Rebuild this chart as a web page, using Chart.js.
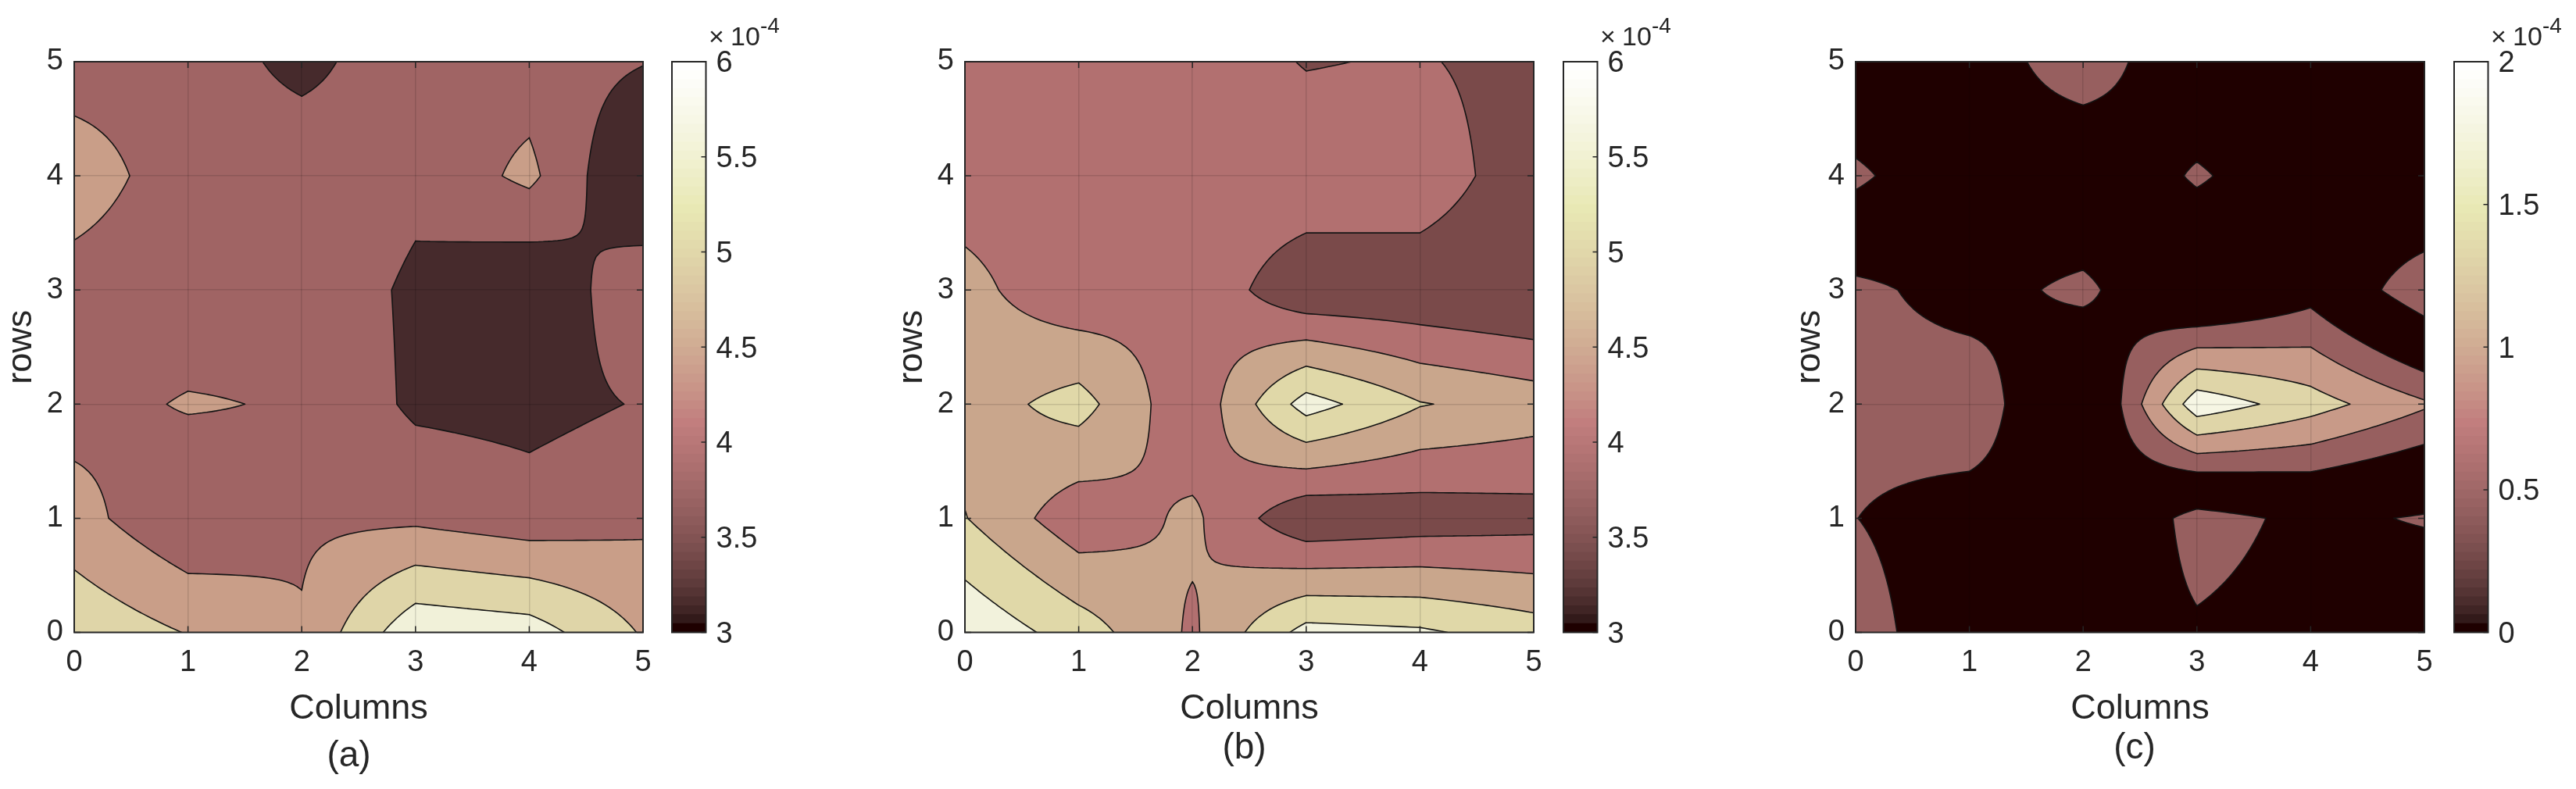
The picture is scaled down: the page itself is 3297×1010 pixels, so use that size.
<!DOCTYPE html>
<html>
<head>
<meta charset="utf-8">
<title>contour panels</title>
<script src="https://cdn.jsdelivr.net/npm/chart.js@4"></script>
<style>
  html, body { margin: 0; background: #fff; }
  canvas { position: absolute; top: 0; }
</style>
</head>
<body>
<script>
// grid nodes, rows listed bottom (row 0) to top (row 5), units of 1e-4
var axisTicks = [0, 1, 2, 3, 4, 5];

var valuesA = [
  [5.67, 5.14, 4.57, 6.33, 6.15, 5.11],
  [4.76, 3.90, 4.38, 4.36, 4.10, 4.36],
  [4.24, 4.56, 4.44, 3.71, 3.63, 3.87],
  [4.19, 4.03, 4.28, 3.71, 3.23, 4.34],
  [4.90, 4.08, 4.36, 3.99, 4.66, 3.03],
  [4.14, 4.27, 3.60, 4.35, 4.18, 3.86]
];
var valuesB = [
  [5.91, 5.26, 4.42, 5.68, 5.58, 5.25],
  [5.02, 4.17, 4.60, 3.57, 3.70, 3.79],
  [4.75, 5.20, 4.10, 5.72, 5.03, 4.78],
  [4.66, 4.12, 4.45, 3.55, 3.55, 3.40],
  [4.24, 4.30, 4.35, 4.45, 4.45, 3.53],
  [4.30, 4.30, 4.40, 3.96, 4.06, 3.74]
];
// signed difference, the plot shows its magnitude
var valuesC = [
  [0.60, 0.05, -0.10, -0.34, -0.20, 0.14],
  [0.405, 0.17, 0.35, -0.60, -0.27, -0.448],
  [0.55, 0.73, -0.33, 1.87, 1.38, 0.86],
  [0.53, 0.18, 0.53, -0.30, 0.22, -0.78],
  [-0.53, 0.21, -0.22, 0.48, -0.08, 0.35],
  [0.30, 0.01, 0.78, -0.17, -0.10, -0.10]
];

var levelsA = [3.83, 4.5, 5.17, 5.83];
var levelsB = [4, 4.5, 5, 5.5];
var levelsC = [0.4, 0.8, 1.2, 1.6];

var bandsA = ["#462a2c", "#a06464", "#c99e88", "#dfd5a8", "#f1f1d9"];
var bandsB = ["#7a4a4a", "#b27070", "#c9a68c", "#e0d8a8", "#f2f2dc"];
var bandsC = ["#1f0000", "#975f5f", "#c89a88", "#dfd5a8", "#f6f6e4"];

var barTicksAB = [3, 3.5, 4, 4.5, 5, 5.5, 6];
var barTicksC = [0, 0.5, 1, 1.5, 2];

var INK = "#262626";
var FONT = "'Liberation Sans', Arial, sans-serif";
var PLOT_TOP = 79, PLOT_BOTTOM = 809.5;

// MATLAB pink(64)
function pinkColors() {
  var out = [];
  for (var i = 0; i < 64; i++) {
    var gray = i / 63;
    var r = Math.min((i + 1) / 24, 1);
    var g = i < 24 ? 0 : Math.min((i - 23) / 24, 1);
    var b = i < 48 ? 0 : (i - 47) / 16;
    var ch = [r, g, b].map(function(h) { return Math.round(255 * Math.sqrt((2 * gray + h) / 3)); });
    out.push("rgb(" + ch.join(",") + ")");
  }
  return out;
}

function makeCanvas(left, width) {
  var c = document.createElement("canvas");
  c.width = width; c.height = 1010;
  c.style.left = left + "px";
  document.body.appendChild(c);
  return c;
}

// the drawn surface is bilinear between nodes, SUB steps per cell
var SUB = 24;
function buildField(values, useAbs) {
  var n = (values[0].length - 1) * SUB + 1, m = (values.length - 1) * SUB + 1;
  var field = [];
  for (var j = 0; j < m; j++) {
    var row = [];
    var j0 = Math.min(Math.floor(j / SUB), values.length - 2), fy = j / SUB - j0;
    for (var i = 0; i < n; i++) {
      var i0 = Math.min(Math.floor(i / SUB), values[0].length - 2), fx = i / SUB - i0;
      var v = values[j0][i0] * (1 - fx) * (1 - fy) + values[j0][i0 + 1] * fx * (1 - fy) +
              values[j0 + 1][i0] * (1 - fx) * fy + values[j0 + 1][i0 + 1] * fx * fy;
      row.push(useAbs ? Math.abs(v) : v);
    }
    field.push(row);
  }
  return field;
}

function clipAbove(poly, level) {
  var out = [];
  for (var k = 0; k < poly.length; k++) {
    var p = poly[k], q = poly[(k + 1) % poly.length];
    if (p.v >= level) out.push(p);
    if ((p.v >= level) !== (q.v >= level)) {
      var t = (level - p.v) / (q.v - p.v);
      out.push({ x: p.x + (q.x - p.x) * t, y: p.y + (q.y - p.y) * t, v: level });
    }
  }
  return out;
}

var contourPlugin = {
  id: "contour",
  beforeDatasetsDraw: function(chart, args, opts) {
    var ctx = chart.ctx, area = chart.chartArea;
    var field = buildField(opts.values, opts.useAbs);
    var m = field.length, n = field[0].length, i, j;
    var px = [], py = [];
    for (i = 0; i < n; i++) px.push(chart.scales.x.getPixelForValue(i / SUB));
    for (j = 0; j < m; j++) py.push(chart.scales.y.getPixelForValue(j / SUB));

    ctx.save();
    ctx.beginPath();
    ctx.rect(area.left, area.top, area.width, area.height);
    ctx.clip();
    ctx.fillStyle = opts.bands[0];
    ctx.fillRect(area.left, area.top, area.width, area.height);

    opts.levels.forEach(function(level, li) {
      ctx.beginPath();
      for (j = 0; j < m - 1; j++) for (i = 0; i < n - 1; i++) {
        var poly = clipAbove([
          { x: px[i], y: py[j], v: field[j][i] },
          { x: px[i + 1], y: py[j], v: field[j][i + 1] },
          { x: px[i + 1], y: py[j + 1], v: field[j + 1][i + 1] },
          { x: px[i], y: py[j + 1], v: field[j + 1][i] }
        ], level);
        if (poly.length < 3) continue;
        ctx.moveTo(poly[0].x, poly[0].y);
        for (var k = 1; k < poly.length; k++) ctx.lineTo(poly[k].x, poly[k].y);
        ctx.closePath();
      }
      ctx.fillStyle = opts.bands[li + 1];
      ctx.fill();
    });

    ctx.strokeStyle = "#141414";
    ctx.lineWidth = 1.6;
    ctx.lineCap = "round";
    opts.levels.forEach(function(level) {
      ctx.beginPath();
      for (j = 0; j < m - 1; j++) for (i = 0; i < n - 1; i++) {
        var c = [
          { x: px[i], y: py[j], v: field[j][i] },
          { x: px[i + 1], y: py[j], v: field[j][i + 1] },
          { x: px[i + 1], y: py[j + 1], v: field[j + 1][i + 1] },
          { x: px[i], y: py[j + 1], v: field[j + 1][i] }
        ];
        var hits = [];
        for (var e = 0; e < 4; e++) {
          var p = c[e], q = c[(e + 1) % 4];
          if ((p.v >= level) !== (q.v >= level)) {
            var t = (level - p.v) / (q.v - p.v);
            hits.push([p.x + (q.x - p.x) * t, p.y + (q.y - p.y) * t]);
          }
        }
        for (var h = 0; h + 1 < hits.length; h += 2) {
          ctx.moveTo(hits[h][0], hits[h][1]);
          ctx.lineTo(hits[h + 1][0], hits[h + 1][1]);
        }
      }
      ctx.stroke();
    });
    ctx.restore();
  }
};

// box with inward ticks on all four sides, plus the caption
var framePlugin = {
  id: "frame",
  afterDraw: function(chart, args, opts) {
    var ctx = chart.ctx, a = chart.chartArea, TL = 8;
    ctx.save();
    ctx.strokeStyle = INK;
    ctx.lineWidth = 2;
    ctx.strokeRect(a.left, a.top, a.width, a.height);
    ctx.lineWidth = 1.5;
    ctx.beginPath();
    axisTicks.forEach(function(t) {
      var x = chart.scales.x.getPixelForValue(t), y = chart.scales.y.getPixelForValue(t);
      ctx.moveTo(x, a.bottom); ctx.lineTo(x, a.bottom - TL);
      ctx.moveTo(x, a.top); ctx.lineTo(x, a.top + TL);
      ctx.moveTo(a.left, y); ctx.lineTo(a.left + TL, y);
      ctx.moveTo(a.right, y); ctx.lineTo(a.right - TL, y);
    });
    ctx.stroke();
    ctx.fillStyle = INK;
    ctx.font = "46px " + FONT;
    ctx.textAlign = "center";
    ctx.textBaseline = "middle";
    ctx.fillText(opts.caption, opts.captionX, opts.captionY);
    ctx.restore();
  }
};

function drawPanel(p) {
  var canvas = makeCanvas(p.left - p.axisW, p.width + p.axisW + 40);
  var nodes = [];
  p.values.forEach(function(row, j) {
    row.forEach(function(v, i) { nodes.push({ x: axisTicks[i], y: axisTicks[j], v: v }); });
  });
  var tickFont = { family: FONT, size: 38 };
  var titleFont = { family: FONT, size: 45, lineHeight: 1 };
  new Chart(canvas.getContext("2d"), {
    type: "scatter",
    data: { datasets: [{ data: nodes, pointRadius: 0 }] },
    plugins: [contourPlugin, framePlugin],
    options: {
      responsive: false, animation: false,
      layout: { autoPadding: false, padding: { left: 0, right: 40, top: PLOT_TOP, bottom: 0 } },
      plugins: {
        legend: { display: false },
        tooltip: { enabled: false },
        contour: { values: p.values, levels: p.levels, bands: p.bands, useAbs: p.useAbs },
        frame: { caption: p.caption, captionX: p.captionX + p.axisW - p.left, captionY: p.captionY }
      },
      scales: {
        x: {
          type: "linear", min: 0, max: 5,
          afterBuildTicks: function(s) { s.ticks = axisTicks.map(function(v) { return { value: v }; }); },
          afterFit: function(s) { s.height = 1010 - PLOT_BOTTOM; },
          grid: { z: 1, color: "rgba(0,0,0,0.13)", lineWidth: 1.5, drawTicks: false },
          border: { display: false },
          ticks: { color: INK, font: tickFont, padding: 16, maxRotation: 0, autoSkip: false,
                   callback: function(v) { return String(v); } },
          title: { display: true, text: "Columns", color: INK, font: titleFont, padding: { top: 0, bottom: 80 } }
        },
        y: {
          type: "linear", min: 0, max: 5,
          afterBuildTicks: function(s) { s.ticks = axisTicks.map(function(v) { return { value: v }; }); },
          afterFit: function(s) { s.width = p.axisW; },
          grid: { z: 1, color: "rgba(0,0,0,0.13)", lineWidth: 1.5, drawTicks: false },
          border: { display: false },
          ticks: { color: INK, font: tickFont, padding: 14, autoSkip: false,
                   callback: function(v) { return String(v); } },
          title: { display: true, text: "rows", color: INK, font: titleFont, padding: 0 }
        }
      }
    }
  });
}

function drawBar(b) {
  var W = 43.5, canvas = makeCanvas(b.left - 2, Math.min(160, 3297 - b.left + 2));
  var colors = pinkColors(), min = b.ticks[0], max = b.ticks[b.ticks.length - 1];
  // first dataset is painted last, so each step covers the taller one behind it
  var steps = colors.map(function(c, i) {
    return { data: [[min, min + (max - min) * (i + 1) / 64]], backgroundColor: c, borderWidth: 0 };
  });
  var barFrame = {
    id: "barFrame",
    afterDraw: function(chart) {
      var ctx = chart.ctx, a = chart.chartArea;
      ctx.save();
      ctx.strokeStyle = INK;
      ctx.lineWidth = 2;
      ctx.strokeRect(a.left, a.top, a.width, a.height);
      ctx.lineWidth = 1.5;
      ctx.beginPath();
      b.ticks.forEach(function(t) {
        var y = chart.scales.y.getPixelForValue(t);
        ctx.moveTo(a.right, y); ctx.lineTo(a.right - 6, y);
      });
      ctx.stroke();
      ctx.fillStyle = INK;
      ctx.textBaseline = "alphabetic";
      ctx.font = "34px " + FONT;
      ctx.fillText("\u00d7", 49, 58);
      ctx.fillText("10", 77, 58);
      ctx.font = "28px " + FONT;
      ctx.fillText("-4", 115, 42);
      ctx.restore();
    }
  };
  new Chart(canvas.getContext("2d"), {
    type: "bar",
    data: { labels: [""], datasets: steps },
    plugins: [barFrame],
    options: {
      responsive: false, animation: false,
      layout: { autoPadding: false, padding: { left: 2, right: 0, top: PLOT_TOP, bottom: 1010 - PLOT_BOTTOM } },
      plugins: { legend: { display: false }, tooltip: { enabled: false } },
      datasets: { bar: { barPercentage: 1, categoryPercentage: 1 } },
      scales: {
        x: { stacked: true, display: false },
        y: {
          position: "right", min: min, max: max,
          afterBuildTicks: function(s) { s.ticks = b.ticks.map(function(v) { return { value: v }; }); },
          afterFit: function(s) { s.width = canvas.width - W - 2; },
          grid: { display: false, drawTicks: false },
          border: { display: false },
          ticks: { color: INK, font: { family: FONT, size: 38 }, padding: 13, labelOffset: 3, autoSkip: false,
                   callback: function(v) { return String(v); } }
        }
      }
    }
  });
}

drawPanel({ left: 94.5, width: 728, axisW: 90, values: valuesA, levels: levelsA, bands: bandsA, useAbs: false,
            caption: "(a)", captionX: 446, captionY: 968 });
drawPanel({ left: 1234.5, width: 728.5, axisW: 90, values: valuesB, levels: levelsB, bands: bandsB, useAbs: false,
            caption: "(b)", captionX: 1592, captionY: 958 });
drawPanel({ left: 2375, width: 728.5, axisW: 81, values: valuesC, levels: levelsC, bands: bandsC, useAbs: true,
            caption: "(c)", captionX: 2732, captionY: 958 });

drawBar({ left: 860, ticks: barTicksAB });
drawBar({ left: 2000.5, ticks: barTicksAB });
drawBar({ left: 3141, ticks: barTicksC });
</script>
</body>
</html>
